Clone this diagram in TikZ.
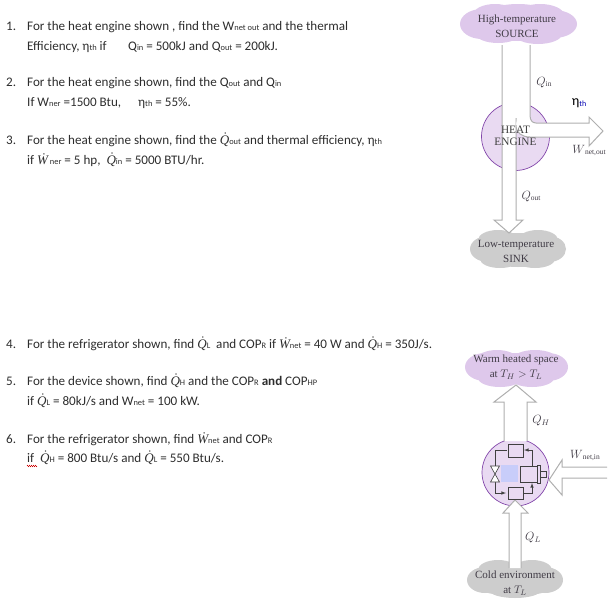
\documentclass[tikz,border=0pt]{standalone}
\usepackage{fontspec}
\setmainfont{Carlito}
\newfontfamily\figfont{Liberation Serif}
\usetikzlibrary{decorations.pathmorphing}
\definecolor{inkq}{RGB}{45,45,45}
\definecolor{cloudp}{RGB}{222,200,235}
\definecolor{cloudg}{RGB}{205,205,205}
\definecolor{ringp}{RGB}{130,70,170}
\definecolor{discp}{RGB}{233,218,242}
\definecolor{arrowg}{RGB}{175,175,175}
\definecolor{figtext}{RGB}{65,60,70}
\definecolor{blockb}{RGB}{200,205,250}
\newcommand{\dq}{{\figfont\itshape\.{Q}}}
\newcommand{\dw}{{\figfont\itshape\.{W}}}
\newcommand{\sbs}[1]{\raisebox{-0.5pt}{\fontsize{8.4}{8}\selectfont #1}}
\newcommand{\lsub}[1]{\raisebox{-1pt}{\fontsize{7.5}{8}\selectfont\upshape #1}}
\tikzset{
  q/.style={anchor=base west,inner sep=0pt,font=\fontsize{13.1}{14}\selectfont,text=inkq},
  figcap/.style={inner sep=0pt,align=center,font=\figfont\fontsize{11}{15}\selectfont,text=figtext},
  lab/.style={inner sep=0pt,font=\figfont\itshape\fontsize{11.5}{13}\selectfont,text=figtext},
  blockarrow/.style={draw=arrowg,line width=1pt,fill=white,line join=miter},
  ring/.style={draw=ringp,line width=0.7pt,fill=discp},
  comp/.style={draw=black!75,line width=0.6pt,fill=discp},
  pipe/.style={draw=black!75,line width=0.6pt}
}
\begin{document}
\begin{tikzpicture}[x=1pt,y=-1pt]
\useasboundingbox (0,0) rectangle (612,603);
% questions
\node[q] (n1) at (6,30) {1.};
\node[q] (t1a) at (27,30) {For the heat engine shown , find the W\sbs{net out} and the thermal};
\node[q] (t1b) at (27,50) {Efficiency, η\sbs{th} if};
\node[q] (t1c) at (128,50) {Q\sbs{in} = 500kJ and Q\sbs{out} = 200kJ.};
\node[q] (n2) at (6,86) {2.};
\node[q] (t2a) at (27,86) {For the heat engine shown, find the Q\sbs{out} and Q\sbs{in}};
\node[q] (t2b) at (27,106) {If  W\sbs{ner} =1500 Btu,};
\node[q] (t2c) at (138,106) {η\sbs{th} = 55\%.};
\node[q] (n3) at (6,144) {3.};
\node[q] (t3a) at (27,144) {For the heat engine shown, find the \dq\sbs{out} and thermal efficiency, η\sbs{th}};
\node[q] (t3b) at (27,164) {if \dw\sbs{ ner} = 5 hp,\ \ \dq\sbs{in} = 5000 BTU/hr.};
\node[q] (n4) at (6,348) {4.};
\node[q] (t4) at (27,348) {For the refrigerator shown, find \dq\sbs{L} \ and COP\sbs{R} if \dw\sbs{net} = 40 W and \dq\sbs{H} = 350J/s.};
\node[q] (n5) at (6,385) {5.};
\node[q] (t5a) at (27,385) {For the device shown, find \dq\sbs{H} and the COP\sbs{R} \textbf{and} COP\sbs{HP}};
\node[q] (t5b) at (27,405) {if \dq\sbs{L} = 80kJ/s and W\sbs{net} = 100 kW.};
\node[q] (n6) at (6,443) {6.};
\node[q] (t6a) at (27,443) {For the refrigerator shown, find \dw\sbs{net} and COP\sbs{R}};
\node[q] (t6b) at (27,462) {if \ \dq\sbs{H} = 800 Btu/s and \dq\sbs{L} = 550 Btu/s.};
\draw[red!80!black,line width=0.4pt,decorate,decoration={zigzag,amplitude=0.8pt,segment length=2pt}] (27,466) -- (37,466);
% heat engine: source cloud
\fill[cloudp] (518,24) ellipse (52 and 17) (482,24) ellipse (22 and 15) (554,24) ellipse (23 and 14)
  (495,15) ellipse (22 and 11) (540,15) ellipse (24 and 11) (518,12) ellipse (28 and 8)
  (498,34) ellipse (22 and 9) (538,34) ellipse (24 and 10);
\fill[cloudg] (518,250) ellipse (42 and 17) (488,249) ellipse (18 and 13) (549,249) ellipse (17 and 13)
  (498,240) ellipse (20 and 10) (538,240) ellipse (20 and 10) (500,259) ellipse (20 and 9) (535,259) ellipse (20 and 9);
\draw[ring] (515.5,136.5) circle (34);
% engine arrows
\fill[white] (502,45) -- (502,220) -- (516,220) -- (516,125) .. controls (516,133) and (522,137) .. (530,137) -- (589,137) -- (589,123) -- (536,123) .. controls (532,123) and (530,120) .. (530,115) -- (530,45) -- cycle;
\draw[blockarrow] (502,45) -- (502,220) -- (494,220) -- (509,233) -- (523,220) -- (516,220) -- (516,118);
\draw[blockarrow,fill=white] (516,125) .. controls (516,133) and (522,137) .. (530,137) -- (589,137) -- (589,146) -- (603,131) -- (589,117) -- (589,123) -- (536,123) .. controls (532,123) and (530,120) .. (530,115) -- (530,45);
\fill[white] (517,60) rectangle (529.4,122);
\node[figcap] (src) at (517,26) {High-temperature\\SOURCE};
\node[figcap] (snk) at (516,251) {Low-temperature\\SINK};
\node[figcap,text=black!75,font=\figfont\fontsize{11.3}{12}\selectfont] (eng) at (515.5,136) {HEAT\\ENGINE};
\node[lab] (qin) at (544,83) {$Q$\lsub{in}};
\node[lab] (qout) at (531,197) {$Q$\lsub{out}};
\node[lab] (wout) at (589,150) {$W$\lsub{net,out}};
\node[inner sep=0pt,font=\fontsize{14}{14}\selectfont,text=black] (eta) at (579,103) {η\raisebox{-1.5pt}{\fontsize{8}{8}\selectfont\color{blue!70!black}th}};
% refrigerator
\fill[cloudp] (516,368) ellipse (50 and 15) (485,367) ellipse (20 and 14) (548,367) ellipse (20 and 14)
  (497,359) ellipse (20 and 9) (535,359) ellipse (22 and 9) (500,378) ellipse (22 and 9) (532,378) ellipse (22 and 9);
\fill[cloudg] (515,580) ellipse (46 and 16) (485,580) ellipse (18 and 13) (545,580) ellipse (18 and 13)
  (498,570) ellipse (20 and 10) (532,570) ellipse (20 and 10) (515,590) ellipse (26 and 8);
\draw[ring] (515.5,472.5) circle (33.5);
\draw[blockarrow] (504,441) -- (504,402) -- (494,402) -- (516,385) -- (536,402) -- (527,402) -- (527,441);
\draw[blockarrow] (509,568) -- (509,513) -- (503,513) -- (515,500) -- (528,513) -- (521,513) -- (521,568);
\draw[blockarrow] (607,467) -- (562,467) -- (562,460) -- (549,480) -- (562,495) -- (562,478) -- (607,478);
\fill[blockb] (501,465) rectangle (518,482);
\draw[pipe,-latex] (532,466) -- (532,450) -- (524,450);
\draw[pipe] (507,450) -- (495,450) -- (495,466);
\draw[pipe,-latex] (495,482) -- (495,493) -- (506,493);
\draw[pipe,-latex] (523,493) -- (532,493) -- (532,483);
\node[comp,minimum width=15pt,minimum height=13pt,inner sep=0pt] (cond) at (515.5,450.5) {};
\node[comp,minimum width=15pt,minimum height=12pt,inner sep=0pt] (evap) at (515.5,493.5) {};
\node[comp,minimum width=17pt,minimum height=16pt,inner sep=0pt] (comp1) at (528.5,474) {};
\draw[pipe,fill=discp] (537,465) rectangle (540,483);
\draw[pipe,fill=discp] (540,471) rectangle (546,477);
\draw[pipe,fill=white] (490.5,466) -- (499.5,466) -- (490.5,482) -- (499.5,482) -- cycle;
\node[figcap] (warm) at (516,367) {Warm heated space\\at $T_H > T_L$};
\node[figcap] (cold) at (515,583) {Cold environment\\at $T_L$};
\node[lab] (qh) at (541,421) {$Q_H$};
\node[lab] (ql) at (533,538) {$Q_L$};
\node[lab] (win) at (585,455) {$W$\lsub{net,in}};
\end{tikzpicture}
\end{document}
